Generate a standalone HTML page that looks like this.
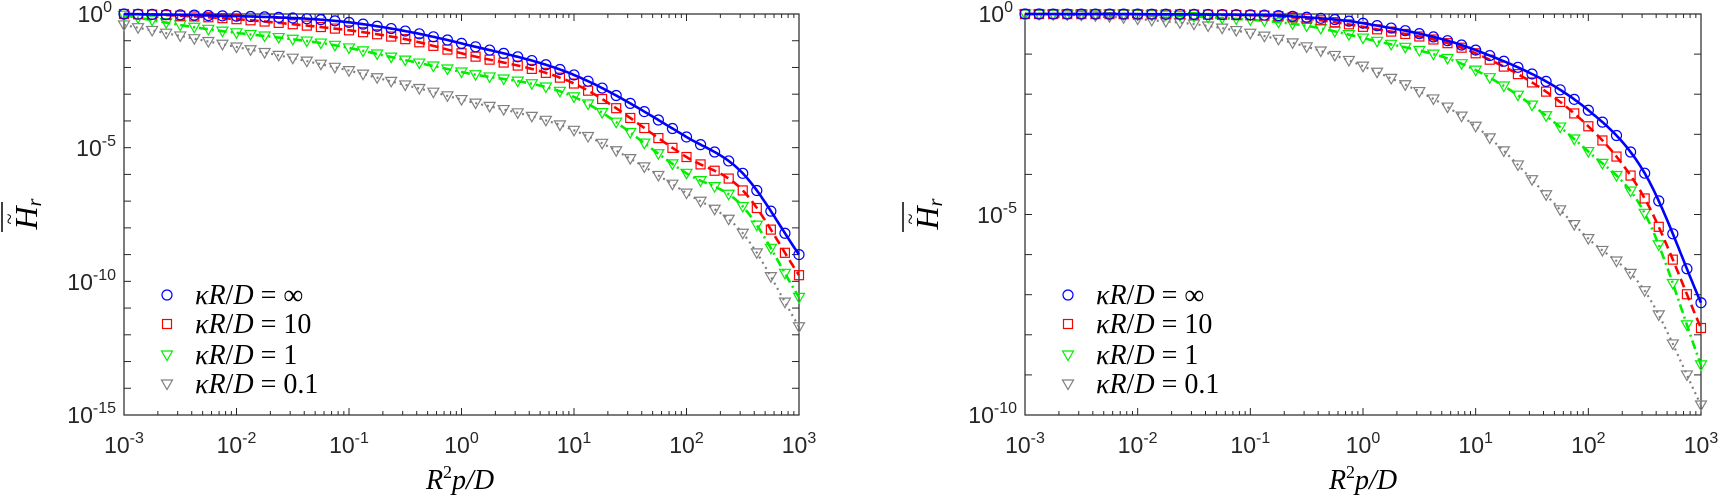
<!DOCTYPE html>
<html><head><meta charset="utf-8">
<style>
html,body{margin:0;padding:0;background:#fff;}
svg{display:block;}
.tk{font-family:"Liberation Sans",sans-serif;font-size:23px;fill:#262626;}
.sp{font-size:16px;}
.lg{font-family:"Liberation Serif",serif;font-size:28px;fill:#000;}
</style></head>
<body>
<svg id="s" width="1720" height="502" viewBox="0 0 1720 502" xmlns="http://www.w3.org/2000/svg">
<g id="g"></g>
<g class="tk" text-anchor="end">
<text x="112" y="22">10<tspan class="sp" dy="-10">0</tspan></text>
<text x="116" y="156">10<tspan class="sp" dy="-10">-5</tspan></text>
<text x="116" y="290">10<tspan class="sp" dy="-10">-10</tspan></text>
<text x="116" y="423">10<tspan class="sp" dy="-10">-15</tspan></text>
<text x="1013" y="22">10<tspan class="sp" dy="-10">0</tspan></text>
<text x="1017" y="223">10<tspan class="sp" dy="-10">-5</tspan></text>
<text x="1017" y="423">10<tspan class="sp" dy="-10">-10</tspan></text>
</g>
<g id="xl" class="tk"></g>
<g class="lg" font-style="italic" font-size="30">
<text x="460" y="489" text-anchor="middle">R<tspan font-size="18" dy="-11" font-style="normal">2</tspan><tspan dy="11">p/D</tspan></text>
<text x="1363" y="489" text-anchor="middle">R<tspan font-size="18" dy="-11" font-style="normal">2</tspan><tspan dy="11">p/D</tspan></text>
</g>
<g class="lg">
<g transform="translate(37,214) rotate(-90)"><text x="0" y="0" text-anchor="middle" font-style="italic" font-size="32">H<tspan font-size="20" dy="4">r</tspan></text><text x="-5" y="-21" text-anchor="middle" font-size="20">~</text><line x1="-18" y1="-35" x2="12" y2="-35" stroke="#000" stroke-width="1.5"/></g>
<g transform="translate(938,214) rotate(-90)"><text x="0" y="0" text-anchor="middle" font-style="italic" font-size="32">H<tspan font-size="20" dy="4">r</tspan></text><text x="-5" y="-21" text-anchor="middle" font-size="20">~</text><line x1="-18" y1="-35" x2="12" y2="-35" stroke="#000" stroke-width="1.5"/></g>
</g>
<g class="lg">
<text x="195" y="304"><tspan font-style="italic">κR</tspan>/<tspan font-style="italic">D</tspan> = ∞</text>
<text x="195" y="333"><tspan font-style="italic">κR</tspan>/<tspan font-style="italic">D</tspan> = 10</text>
<text x="195" y="364"><tspan font-style="italic">κR</tspan>/<tspan font-style="italic">D</tspan> = 1</text>
<text x="195" y="393"><tspan font-style="italic">κR</tspan>/<tspan font-style="italic">D</tspan> = 0.1</text>
<text x="1096" y="304"><tspan font-style="italic">κR</tspan>/<tspan font-style="italic">D</tspan> = ∞</text>
<text x="1096" y="333"><tspan font-style="italic">κR</tspan>/<tspan font-style="italic">D</tspan> = 10</text>
<text x="1096" y="364"><tspan font-style="italic">κR</tspan>/<tspan font-style="italic">D</tspan> = 1</text>
<text x="1096" y="393"><tspan font-style="italic">κR</tspan>/<tspan font-style="italic">D</tspan> = 0.1</text>
</g>
</svg>
<script>
(function(){
var NS="http://www.w3.org/2000/svg",g=document.getElementById('g'),xl=document.getElementById('xl');
function el(n,a,p){var e=document.createElementNS(NS,n);for(var k in a)e.setAttribute(k,a[k]);(p||g).appendChild(e);return e;}
function interp(pts){
  var n=pts.length,x=pts.map(p=>p[0]),y=pts.map(p=>p[1]),d=[],m=[];
  for(var i=0;i<n-1;i++)d.push((y[i+1]-y[i])/(x[i+1]-x[i]));
  m[0]=d[0];m[n-1]=d[n-2];
  for(i=1;i<n-1;i++)m[i]=(d[i-1]*d[i]<=0)?0:(d[i-1]+d[i])/2;
  for(i=0;i<n-1;i++){if(d[i]==0){m[i]=m[i+1]=0;continue;}var a=m[i]/d[i],b=m[i+1]/d[i],s=a*a+b*b;if(s>9){var t=3/Math.sqrt(s);m[i]=t*a*d[i];m[i+1]=t*b*d[i];}}
  return function(t){var i=0;while(i<n-2&&t>x[i+1])i++;var h=x[i+1]-x[i],u=(t-x[i])/h,u2=u*u,u3=u2*u;
   return (2*u3-3*u2+1)*y[i]+(u3-2*u2+u)*h*m[i]+(-2*u3+3*u2)*y[i+1]+(u3-u2)*h*m[i+1];};
}
var sty=[
 {c:'#0000ff',dash:'',m:'o'},
 {c:'#ff0000',dash:'9,5',m:'s'},
 {c:'#00ee00',dash:'9,4,2,4',m:'v'},
 {c:'#808080',dash:'2,4',m:'v'}];
var L={x0:124,x1:799,y0:14,y1:415,dec:15,data:[
 [[-3,0],[-2.3,-0.05],[-1.14,-0.25],[-0.55,-0.6],[0,-1.1],[1,-2.28],[2,-4.6],[2.5,-5.96],[3,-9.0]],
 [[-3,0],[-2.62,-0.04],[-1.73,-0.29],[-0.55,-0.9],[0,-1.47],[1,-2.6],[2,-5.35],[2.5,-6.6],[3,-9.77]],
 [[-3,-0.05],[-2.32,-0.53],[-1.14,-1.16],[-0.55,-1.68],[0,-2.17],[1,-3.1],[2,-5.96],[2.5,-7.2],[3,-10.6]],
 [[-3,-0.41],[-2.32,-0.97],[-1.14,-1.98],[-0.55,-2.6],[0,-3.2],[1,-4.35],[2,-6.7],[2.5,-8.2],[3,-11.7]]]};
var R={x0:1025,x1:1701,y0:14,y1:415,dec:10,data:[
 [[-3,0],[-1,-0.02],[-0.56,-0.07],[0,-0.23],[1,-0.9],[2,-2.4],[2.5,-3.97],[3,-7.2]],
 [[-3,0],[-1,-0.03],[-0.56,-0.1],[0,-0.32],[1,-0.98],[2,-2.8],[2.5,-4.6],[3,-7.83]],
 [[-3,0],[-2,-0.01],[-1.45,-0.07],[-0.56,-0.27],[0,-0.6],[1,-1.4],[2,-3.43],[2.5,-4.97],[3,-8.75]],
 [[-3,0],[-2.34,-0.05],[-1.9,-0.15],[-1.45,-0.27],[-1,-0.48],[-0.56,-0.77],[0,-1.3],[1,-2.8],[2,-5.6],[2.5,-6.9],[3,-9.75]]]};
function marker(t,x,y,c){
 if(t=='o')el('circle',{cx:x,cy:y,r:5,fill:'none',stroke:c,'stroke-width':1.2});
 else if(t=='s')el('rect',{x:x-4.5,y:y-4.5,width:9,height:9,fill:'none',stroke:c,'stroke-width':1.2});
 else el('path',{d:'M'+(x-5.5)+','+(y-4)+'L'+(x+5.5)+','+(y-4)+'L'+x+','+(y+5.5)+'Z',fill:'none',stroke:c,'stroke-width':1.2});
}
function plot(P,legX){
 var W=P.x1-P.x0,H=P.y1-P.y0,dy=H/P.dec;
 function X(l){return P.x0+(l+3)/6*W;} function Y(v){return P.y0-v*dy;}
 el('rect',{x:P.x0,y:P.y0,width:W,height:H,fill:'none',stroke:'#262626','stroke-width':1.2});
 for(var d=-3;d<=3;d++){var x=X(d);
  el('line',{x1:x,y1:P.y1,x2:x,y2:P.y1-7,stroke:'#262626'});el('line',{x1:x,y1:P.y0,x2:x,y2:P.y0+7,stroke:'#262626'});
  var t=el('text',{x:x,y:453,'text-anchor':'middle'},xl);t.textContent='10';var s=el('tspan',{'class':'sp',dy:-10},t);s.textContent=String(d);
  if(d<3)for(var k=2;k<10;k++){var xx=X(d+Math.log10(k));el('line',{x1:xx,y1:P.y1,x2:xx,y2:P.y1-4,stroke:'#262626'});el('line',{x1:xx,y1:P.y0,x2:xx,y2:P.y0+4,stroke:'#262626'});}
 }
 for(var v=0;v<=P.dec;v++){var y=P.y0+v*dy;el('line',{x1:P.x0,y1:y,x2:P.x0+7,y2:y,stroke:'#262626'});el('line',{x1:P.x1,y1:y,x2:P.x1-7,y2:y,stroke:'#262626'});}
 for(var si=3;si>=0;si--){var S=sty[si],f=interp(P.data[si]),dd='';
  for(var i=0;i<=300;i++){var l=-3+6*i/300;dd+=(i?'L':'M')+X(l).toFixed(1)+','+Y(f(l)).toFixed(1);}
  el('path',{d:dd,fill:'none',stroke:S.c,'stroke-width':(si==3?2.2:2.6),'stroke-dasharray':S.dash});
  for(i=0;i<=48;i++){var l2=-3+i*0.125;marker(S.m,X(l2),Y(f(l2)),S.c);}
 }
 var ly=[295,324,355,384];for(si=0;si<4;si++)marker(sty[si].m,legX,ly[si],sty[si].c);
}
plot(L,167);plot(R,1068);
})();
</script>
</body></html>
